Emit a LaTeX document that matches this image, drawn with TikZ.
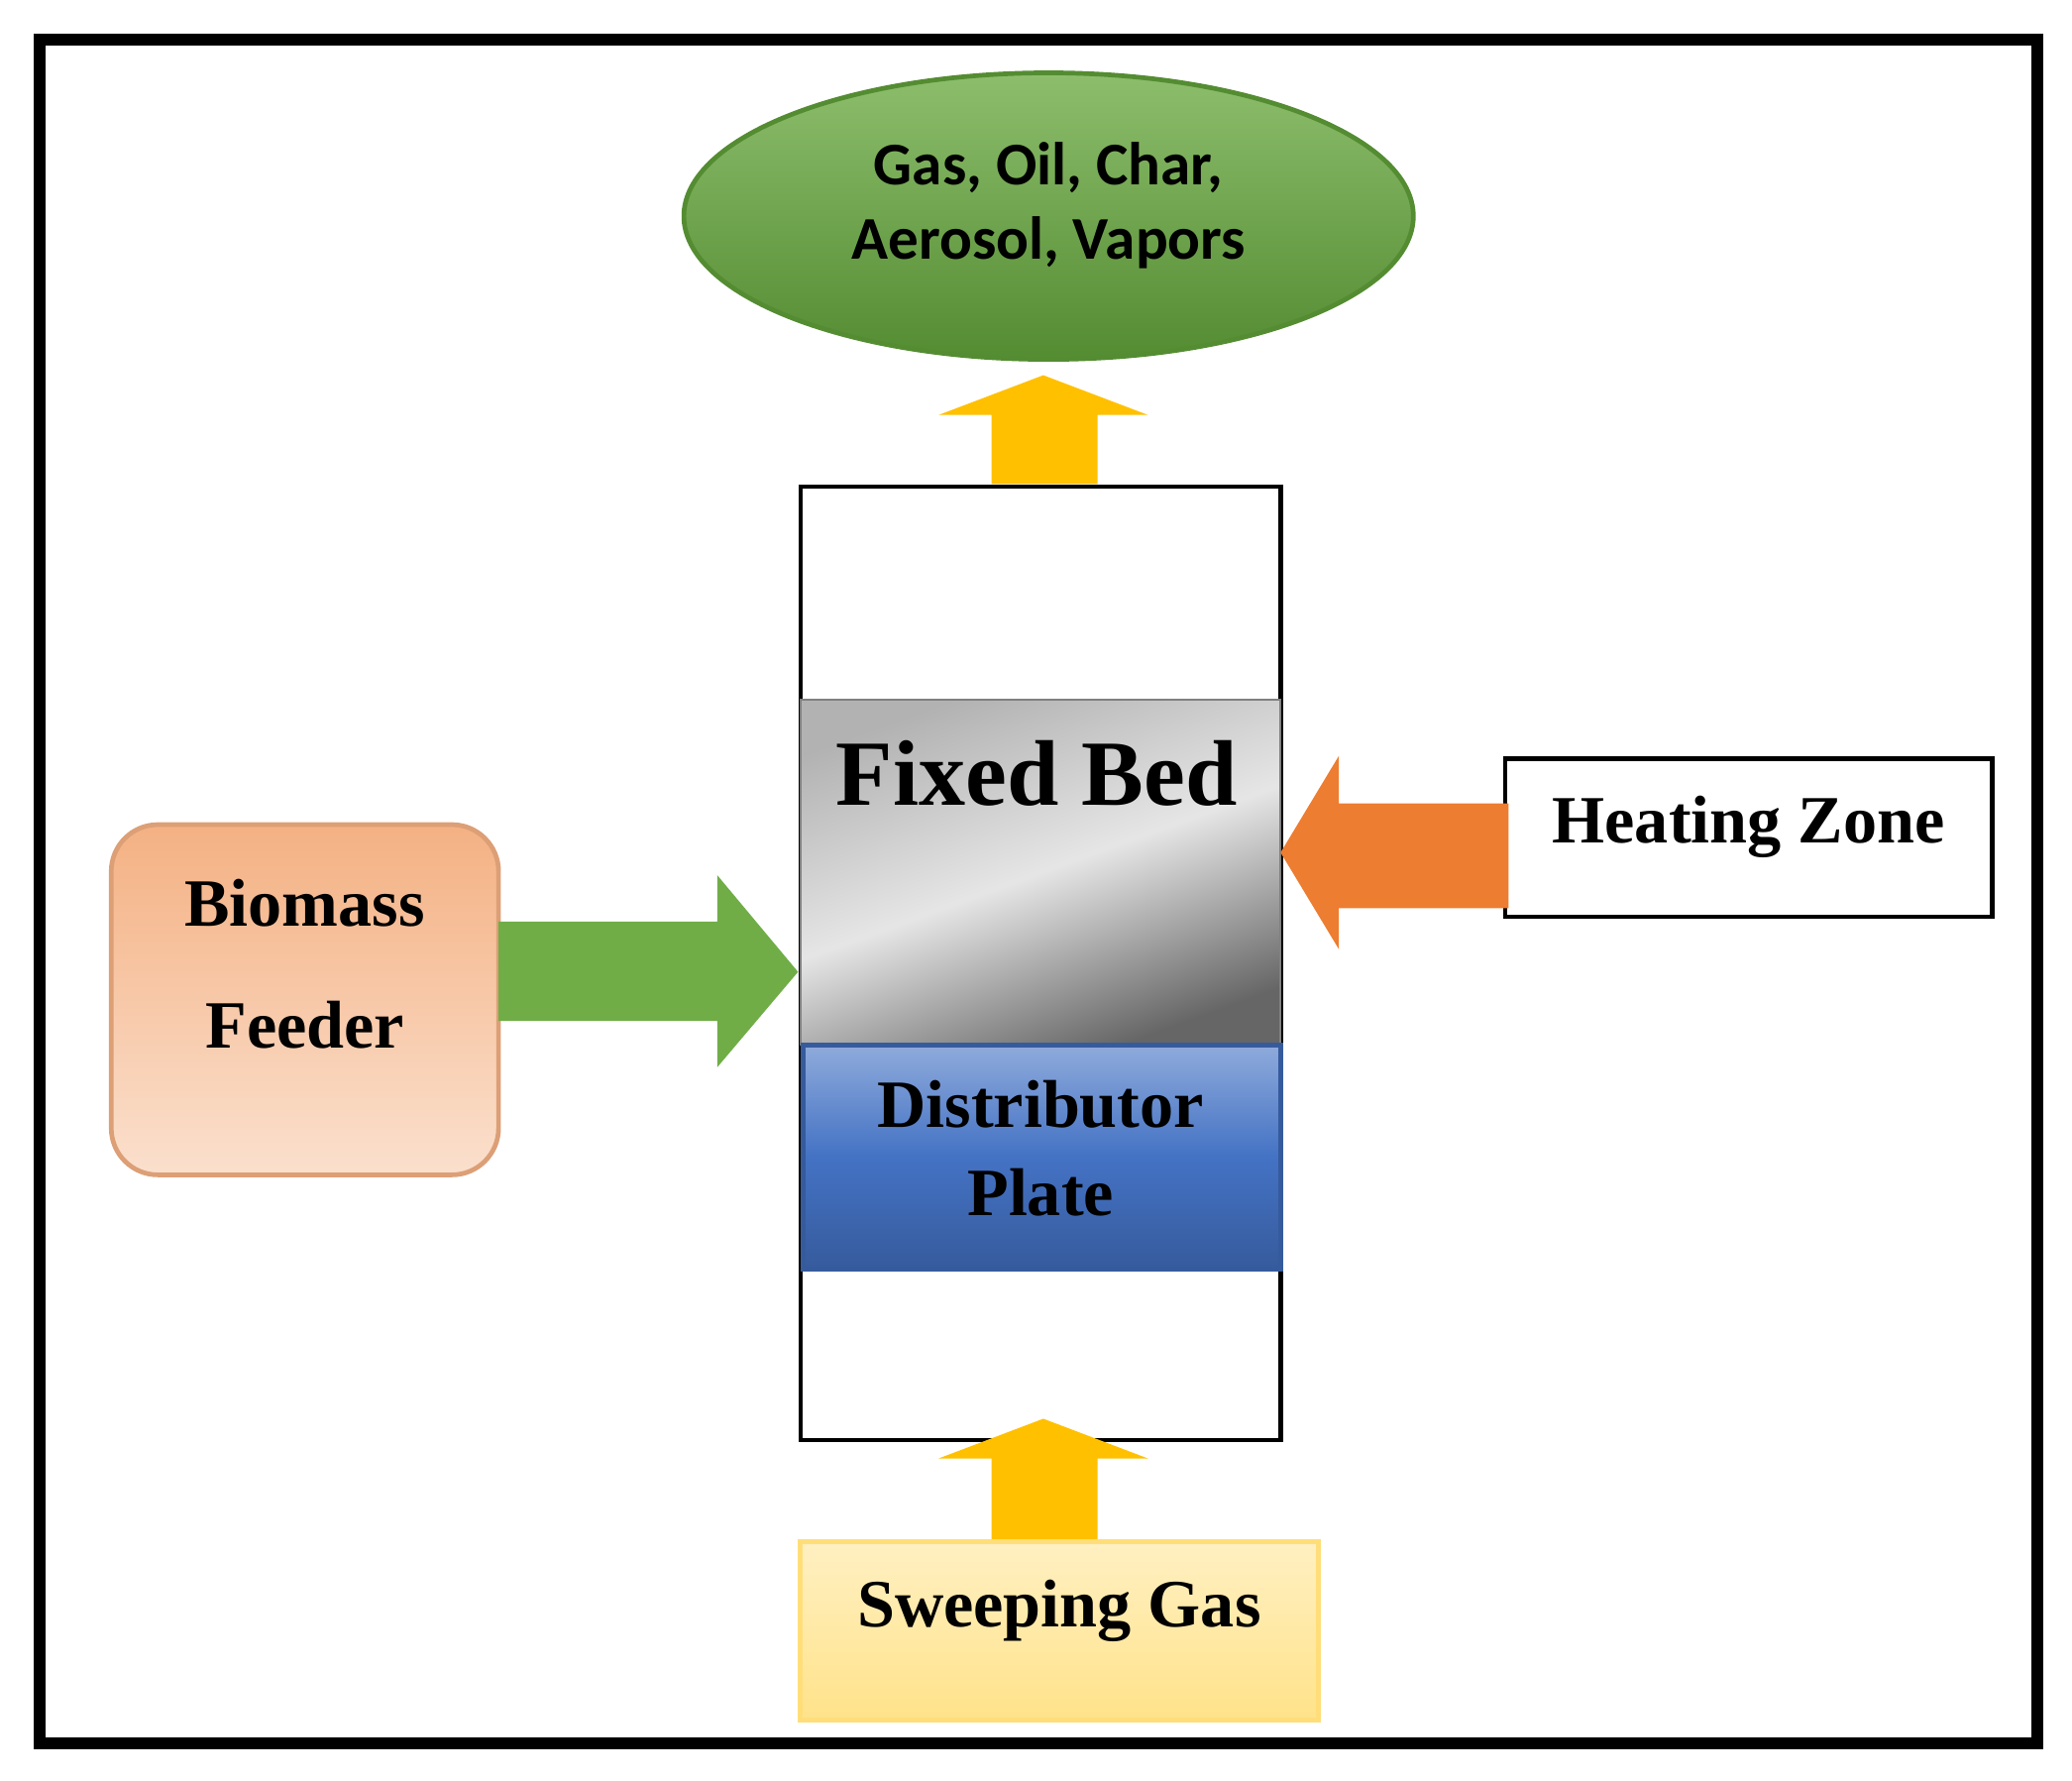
\documentclass[tikz,border=0pt]{standalone}
\usepackage{fontspec}
\setmainfont{Liberation Serif}
\newfontfamily\calfont{Carlito}
\usetikzlibrary{shapes.geometric}
\definecolor{grn}{RGB}{112,173,71}
\definecolor{grnd}{RGB}{84,140,50}
\definecolor{yel}{RGB}{255,192,0}
\definecolor{org}{RGB}{237,125,49}
\definecolor{peach}{RGB}{244,177,131}
\definecolor{blu}{RGB}{68,114,196}
\definecolor{pale}{RGB}{255,230,153}
\tikzset{
  lbl/.style={font=\bfseries\fontsize{14.5}{18}\selectfont, align=center},
}
\begin{document}
\begin{tikzpicture}[x=0.01cm,y=-0.01cm]
\useasboundingbox (0,0) rectangle (1563,1343);
% outer frame
\draw[line width=2.5pt] (30,30) rectangle (1537,1315);
% products
\node[ellipse, inner sep=0pt, minimum width=5.5cm, minimum height=2.16cm, top color=grn!80!white, bottom color=grnd, draw=grnd, line width=1pt,
  font=\calfont\bfseries\fontsize{13}{16}\selectfont, align=center] (prod) at (791,163) {};
\node[font=\calfont\bfseries\fontsize{13}{16}\selectfont, align=center] (prodt) at (791,155) {Gas, Oil, Char,\\Aerosol, Vapors};
% column
\draw[line width=1pt] (604,367) rectangle (966,1086);
\shade[top color=gray!60, bottom color=gray!80!black, middle color=gray!20, shading angle=20] (604,528) rectangle (966,788);
\draw[gray] (604,528) rectangle (966,788);
\node[font=\bfseries\fontsize{20}{24}\selectfont] (bed) at (782,583) {Fixed Bed};
\shade[top color=blu!60!white, bottom color=blu!80!black, middle color=blu] (606,788) rectangle (966,957);
\draw[blu!80!black, line width=1pt] (606,788) rectangle (966,957);
\node[lbl] (dist) at (785,866) {Distributor\\[1pt]Plate};
% top arrow
\fill[yel] (748,365) -- (748,313) -- (708,313) -- (787,283) -- (866,313) -- (828,313) -- (828,365) -- cycle;
% bottom arrow
\fill[yel] (748,1165) -- (748,1100) -- (708,1100) -- (787,1070) -- (866,1100) -- (828,1100) -- (828,1165) -- cycle;
% sweeping gas
\node[draw=pale!80!yel, line width=1pt, top color=pale!60!white, bottom color=pale!90!yel, minimum width=3.91cm, minimum height=1.34cm, lbl] (sweep) at (799,1230) {};
\node[lbl] (sweept) at (799,1215) {Sweeping Gas};
% biomass feeder
\node[draw=peach!90!black, line width=1pt, rounded corners=10pt, top color=peach, bottom color=peach!40!white, minimum width=2.92cm, minimum height=2.64cm, lbl] (feed) at (230,754) {};
\node[lbl] (feedt) at (230,727) {Biomass\\[8pt]Feeder};
\fill[grn] (376,695) -- (541,695) -- (541,660) -- (602,733) -- (541,805) -- (541,770) -- (376,770) -- cycle;
% heating zone
\node[draw, line width=1pt, minimum width=3.67cm, minimum height=1.19cm] (heat) at (1319,632) {};
\node[lbl] (heatt) at (1319,624) {Heating Zone};
\fill[org] (1138,606) -- (1010,606) -- (1010,570) -- (966,643) -- (1010,716) -- (1010,685) -- (1138,685) -- cycle;
\end{tikzpicture}
\end{document}
